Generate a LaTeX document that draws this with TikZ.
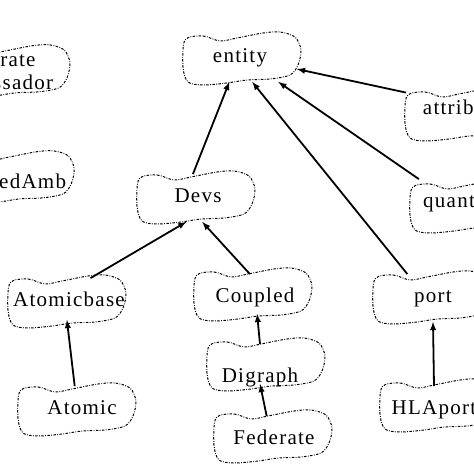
\documentclass[tikz,border=0pt]{standalone}
\usepackage{fontspec}
\setmainfont{Liberation Serif}
\newfontfamily\clsfont[LetterSpace=6]{Liberation Serif}
\usetikzlibrary{positioning,arrows}
\newcommand{\blob}[3]{%
\draw[blobline, shift={(#1)}, shift={(#2,#3)}] plot[smooth cycle] coordinates
{(-57,-18) (-39,-22) (-22,-17) (-5,-20) (21,-25) (38,-26) (53,-21) (59,-8)
(56,7) (48,17) (28,21) (5,22) (-15,25) (-39,27) (-54,24) (-59,9)};%
}

\begin{document}
\begin{tikzpicture}[x=1pt, y=-1pt, line width=1.8pt, >=latex,
	clsfont/.style={font=\clsfont\fontsize{21}{23}\selectfont, inner sep=0pt},
	cls/.style={clsfont, text height=14pt, text depth=4.5pt, minimum width=112pt, minimum height=46pt},
	blobline/.style={line width=1pt, black, dash pattern=on 2.5pt off 1.4pt on 0.8pt off 1.4pt}]

		\useasboundingbox (0,0) rectangle (474,474);
		\clip (0,0) rectangle (474,474);

		%the classes
		\node[cls] (entity) at (240,58) {entity};
		\node[cls] (devs) at (198,198) {Devs};
		\node[cls] (atomicbase) at (69,302) {Atomicbase};
		\node[cls] (atomic) at (82,410) {Atomic};
		\node[cls] (coupled) at (255,298) {Coupled};
		\node[cls] (digraph) at (260,378) {Digraph};
		\node[cls] (federate) at (274,440) {Federate};
		\node[cls] (port) at (433,298) {port};
		\node[cls] (hlaport) at (434,410) {HLAport};
		\node[cls] (attrib) at (463,110) {attribute};
		\node[cls] (quant) at (462,203) {quantity};
		\node[clsfont, align=center, anchor=north] (fedamb) at (-5,51) {Federate\\Ambassador};
		\node[clsfont, anchor=base east] (derivamb) at (67,188) {FedAmb};

		% the clouds round them
		\blob{entity.center}{2}{0}
		\blob{devs.center}{-2}{-1}
		\blob{atomicbase.center}{-2}{-1}
		\blob{atomic.center}{-5}{-1}
		\blob{coupled.center}{-2}{-4}
		\blob{digraph.center}{6}{-14}
		\blob{federate.center}{-1}{-4}
		\blob{port.center}{-1}{-1}
		\blob{hlaport.center}{5}{-5}
		\blob{attrib.center}{1}{4}
		\blob{quant.center}{7}{3}
		\blob{fedamb.center}{16}{0}
		\blob{derivamb.center}{-11}{-4}

		%the inheritance
		\draw[->] (devs.102) -- (entity.246);
		\draw[->] (port.137) -- (entity.297);
		\draw[->] (quant.151) -- (entity.328);
		\draw[->] (attrib.163) -- (entity.349);
		\draw[->] (atomicbase.48) -- (devs.244);
		\draw[->] (coupled.102) -- (devs.280);
		\draw[->] (atomic.107) -- ([yshift=6pt]atomicbase.265);
		\draw[->] ([yshift=10pt]digraph.north) -- ([yshift=8pt]coupled.275);
		\draw[->] (federate.107) -- ([yshift=18pt]digraph.south);
		\draw[->] (hlaport.north) -- (port.south);

	\end{tikzpicture}
\end{document}
